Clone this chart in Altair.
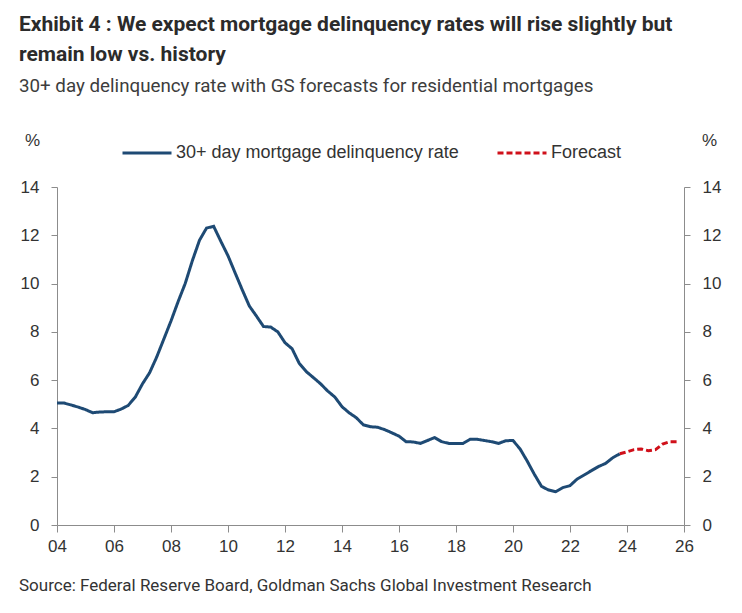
import altair as alt
import pandas as pd

actual_values = [
    5.05, 5.05, 4.97, 4.88, 4.78, 4.65, 4.68, 4.69,
    4.69, 4.80, 4.95, 5.30, 5.85, 6.30, 6.95, 7.70,
    8.45, 9.25, 10.00, 10.95, 11.80, 12.30, 12.37, 11.75,
    11.15, 10.45, 9.75, 9.07, 8.65, 8.22, 8.20, 8.00,
    7.55, 7.30, 6.70, 6.35, 6.10, 5.85, 5.55, 5.30,
    4.90, 4.65, 4.45, 4.15, 4.07, 4.05, 3.95, 3.82,
    3.68, 3.45, 3.44, 3.38, 3.50, 3.62, 3.45, 3.38,
    3.38, 3.38, 3.55, 3.55, 3.50, 3.45, 3.38, 3.49,
    3.50, 3.15, 2.65, 2.10, 1.60, 1.45, 1.38, 1.55,
    1.63, 1.90, 2.07, 2.25, 2.42, 2.55, 2.78, 2.95,
]
forecast_values = [2.95, 3.03, 3.12, 3.15, 3.08, 3.12, 3.35, 3.45, 3.45]

actual_dates = pd.date_range("2004-01-01", periods=len(actual_values), freq="QS")
forecast_dates = pd.date_range("2023-10-01", periods=len(forecast_values), freq="QS")

series_names = ["30+ day mortgage delinquency rate", "Forecast"]
y_ticks = [0, 2, 4, 6, 8, 10, 12, 14]
x_tick_years = [2004, 2006, 2008, 2010, 2012, 2014, 2016, 2018, 2020, 2022, 2024, 2026]

title_lines = [
    "Exhibit 4 : We expect mortgage delinquency rates will rise slightly but",
    "remain low vs. history",
]
subtitle_text = "30+ day delinquency rate with GS forecasts for residential mortgages"
source_text = "Source: Federal Reserve Board, Goldman Sachs Global Investment Research"

df = pd.concat([
    pd.DataFrame({"date": actual_dates, "value": actual_values, "series": series_names[0]}),
    pd.DataFrame({"date": forecast_dates, "value": forecast_values, "series": series_names[1]}),
])

NAVY = "#1e4a74"
RED = "#d0101a"
AXIS_GREY = "#8c8c8c"
TXT = "#333333"
NARROW = "Roboto, sans-serif"
SANS = "Liberation Sans, Arial, sans-serif"

W, H = 627, 338

x_enc = alt.X(
    "date:T",
    scale=alt.Scale(domain=[alt.DateTime(year=2004, month=1, date=1),
                            alt.DateTime(year=2026, month=1, date=1)]),
    axis=alt.Axis(
        values=[alt.DateTime(year=y, month=1, date=1) for y in x_tick_years],
        format="%y", title=None, grid=False, tickSize=7, labelPadding=6,
        domainColor=AXIS_GREY, tickColor=AXIS_GREY, labelColor=TXT,
        labelFontSize=17, labelFont=SANS, labelFlush=False,
    ),
)

lines = alt.Chart(df).mark_line(strokeWidth=3).encode(
    x=x_enc,
    y=alt.Y(
        "value:Q",
        scale=alt.Scale(domain=[0, 14], nice=False),
        axis=alt.Axis(
            values=y_ticks, orient="left", grid=False, tickSize=6, labelPadding=12,
            domainColor=AXIS_GREY, tickColor=AXIS_GREY, labelColor=TXT,
            labelFontSize=17, labelFont=SANS,
            title="%", titleAngle=0, titleX=-25, titleY=-47, titleAlign="center",
            titleBaseline="middle", titleFontSize=17, titleFontWeight="normal",
            titleColor=TXT, titleFont=SANS,
        ),
    ),
    color=alt.Color(
        "series:N",
        scale=alt.Scale(domain=series_names, range=[NAVY, RED]),
        legend=alt.Legend(title=None),
    ),
    strokeDash=alt.StrokeDash(
        "series:N",
        scale=alt.Scale(domain=series_names, range=[[1, 0], [6, 3]]),
        legend=alt.Legend(title=None),
    ),
)

right_axis = alt.Chart(df).mark_line(strokeOpacity=0).encode(
    x=alt.X("date:T"),
    y=alt.Y(
        "value:Q",
        scale=alt.Scale(domain=[0, 14], nice=False),
        axis=alt.Axis(
            values=y_ticks, orient="right", grid=False, tickSize=6, labelPadding=12,
            domainColor=AXIS_GREY, tickColor=AXIS_GREY, labelColor=TXT,
            labelFontSize=17, labelFont=SANS,
            title="%", titleAngle=0, titleX=25, titleY=-47, titleAlign="center",
            titleBaseline="middle", titleFontSize=17, titleFontWeight="normal",
            titleColor=TXT, titleFont=SANS,
        ),
    ),
)

source = alt.Chart(pd.DataFrame({"t": [source_text]})).mark_text(
    align="left", baseline="middle", font=NARROW, fontSize=17, color=TXT
).encode(x=alt.value(-38), y=alt.value(H + 61), text="t:N")

chart = alt.layer(lines, right_axis, source).resolve_scale(y="independent").properties(
    width=W,
    height=H,
    title=alt.Title(
        text=title_lines,
        subtitle=subtitle_text,
        anchor="start",
        frame="group",
        dx=-38,
        offset=31,
        font=NARROW,
        fontSize=21,
        fontWeight="bold",
        color="#2b2b2b",
        lineHeight=30,
        subtitleFont=NARROW,
        subtitleFontSize=18.75,
        subtitleColor="#3d3d3d",
        subtitlePadding=12,
    ),
    padding={"left": 11, "top": 6, "right": 4, "bottom": 4},
).configure_view(stroke=None).configure_legend(
    orient="none",
    legendX=64,
    legendY=-60,
    direction="horizontal",
    symbolType="stroke",
    symbolSize=2401,
    symbolStrokeWidth=3,
    labelFontSize=18,
    labelFont=SANS,
    labelColor=TXT,
    labelOffset=3,
    labelLimit=400,
    columnPadding=32,
    padding=0,
)

chart.save("out.html", embed_options={"renderer": "svg", "actions": False})
